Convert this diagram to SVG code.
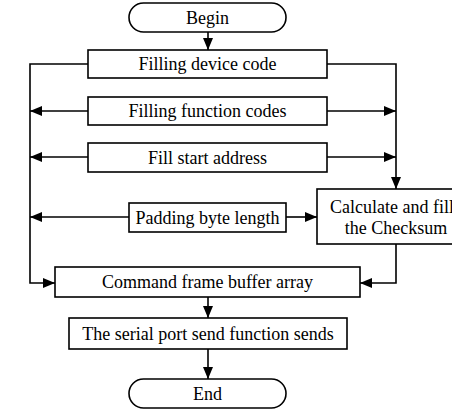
<svg xmlns="http://www.w3.org/2000/svg" width="474" height="412" viewBox="0 0 474 412" font-family="'Liberation Serif', 'DejaVu Serif', serif">
<style>
.b{fill:#fff;stroke:#000;stroke-width:1.6}
.t{font-family:'Liberation Serif','DejaVu Serif',serif;font-size:18px;fill:#000;text-anchor:middle}
.c{fill:none;stroke:#000;stroke-width:1.6}
</style>
<defs>
<marker id="a" viewBox="0 0 12 10" refX="12" refY="5" markerWidth="12" markerHeight="10" markerUnits="userSpaceOnUse" orient="auto">
<path d="M0,0 L12,5 L0,10 z" fill="#000"/>
</marker>
<clipPath id="clip"><rect x="0" y="0" width="452" height="412"/></clipPath>
</defs>
<rect width="474" height="412" fill="#fff"/>
<g id="connectors">
<path class="c" d="M208,32 V50" marker-end="url(#a)"/>
<path class="c" d="M88,64 H30 V283 H55" marker-end="url(#a)"/>
<path class="c" d="M327,64 H396 V189" marker-end="url(#a)"/>
<path class="c" d="M88,111 H30" marker-end="url(#a)"/>
<path class="c" d="M327,111 H396" marker-end="url(#a)"/>
<path class="c" d="M88,157 H30" marker-end="url(#a)"/>
<path class="c" d="M327,157 H396" marker-end="url(#a)"/>
<path class="c" d="M129,217 H30" marker-end="url(#a)"/>
<path class="c" d="M286,217 H317" marker-end="url(#a)"/>
<path class="c" d="M396,244 V283 H360" marker-end="url(#a)"/>
<path class="c" d="M208,297 V318" marker-end="url(#a)"/>
<path class="c" d="M208,349 V379" marker-end="url(#a)"/>
</g>
<g id="begin">
<rect class="b" x="129" y="3" width="157" height="29" rx="14.5"/>
<text class="t" x="207.5" y="23.5">Begin</text>
</g>
<g id="device">
<rect class="b" x="88" y="50" width="239" height="28"/>
<text class="t" x="207.5" y="70">Filling device code</text>
</g>
<g id="function">
<rect class="b" x="88" y="97" width="239" height="28"/>
<text class="t" x="207.5" y="117">Filling function codes</text>
</g>
<g id="address">
<rect class="b" x="88" y="143" width="239" height="29"/>
<text class="t" x="207.5" y="163.5">Fill start address</text>
</g>
<g id="padding">
<rect class="b" x="129" y="203" width="157" height="29"/>
<text class="t" x="207.5" y="223.5">Padding byte length</text>
</g>
<g id="checksum" clip-path="url(#clip)">
<rect class="b" x="317" y="189" width="150" height="55"/>
<text class="t" x="392" y="213">Calculate and fill</text>
<text class="t" x="396" y="234">the Checksum</text>
</g>
<g id="buffer">
<rect class="b" x="55" y="267" width="305" height="30"/>
<text class="t" x="207.5" y="288">Command frame buffer array</text>
</g>
<g id="serial">
<rect class="b" x="69" y="318" width="278" height="31"/>
<text class="t" x="208" y="339.5">The serial port send function sends</text>
</g>
<g id="end">
<rect class="b" x="129" y="379" width="157" height="29" rx="14.5"/>
<text class="t" x="207.5" y="399.5">End</text>
</g>
</svg>
